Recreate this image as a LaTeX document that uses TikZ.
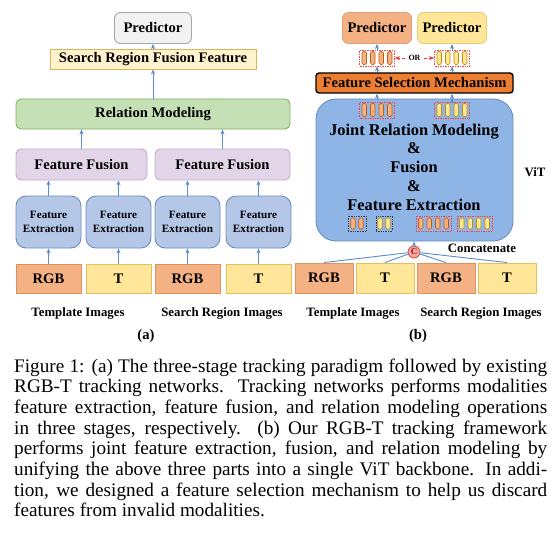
\documentclass[tikz,border=0pt]{standalone}
\usepackage{fontspec}
\setmainfont{Liberation Serif}
\usetikzlibrary{arrows.meta}
\definecolor{predgray}{HTML}{F2F2F2}
\definecolor{predgrayline}{HTML}{A6A6A6}
\definecolor{featyellow}{HTML}{FFF2CC}
\definecolor{featyellowline}{HTML}{D6B656}
\definecolor{relgreen}{HTML}{C5E0B4}
\definecolor{relgreenline}{HTML}{82B366}
\definecolor{fuspurple}{HTML}{E1D5E7}
\definecolor{fuspurpleline}{HTML}{C3ABD0}
\definecolor{extblue}{HTML}{B4C7E7}
\definecolor{extblueline}{HTML}{6C8EBF}
\definecolor{rgborange}{HTML}{F4B183}
\definecolor{rgborangeline}{HTML}{E0915C}
\definecolor{tyellow}{HTML}{FFE699}
\definecolor{tyellowline}{HTML}{E3C05F}
\definecolor{predorangeline}{HTML}{E0A07A}
\definecolor{predyellowline}{HTML}{E8CC7A}
\definecolor{selorange}{HTML}{ED7D31}
\definecolor{vitblue}{HTML}{8FB4E6}
\definecolor{vitblueline}{HTML}{6C8EBF}
\definecolor{pillOline}{HTML}{C55A11}
\definecolor{pillYline}{HTML}{BF9000}
\definecolor{arrowblue}{HTML}{5B8BD0}
\definecolor{concatred}{HTML}{F4A3A0}
\definecolor{concatline}{HTML}{C0504D}
\definecolor{concattext}{HTML}{8B1A1A}

\begin{document}
\begin{tikzpicture}[x=1pt, y=-1pt,
		lbl/.style={font=\bfseries\fontsize{14.6}{17}\selectfont},
		caplbl/.style={font=\bfseries\fontsize{12.8}{15}\selectfont},
		block/.style={draw, line width=0.9pt, rounded corners=5pt, inner sep=0pt, lbl},
		predictor/.style={block, rounded corners=6pt, minimum width=77pt, minimum height=31pt},
		fusionfeat/.style={block, rounded corners=0pt, fill=featyellow, draw=featyellowline, minimum width=206pt, minimum height=20pt},
		relation/.style={block, fill=relgreen, draw=relgreenline, minimum width=274pt, minimum height=30pt},
		fusion/.style={block, fill=fuspurple, draw=fuspurpleline, minimum height=31pt},
		extract/.style={block, rounded corners=10pt, fill=extblue, draw=extblueline, minimum width=65pt, minimum height=52pt, align=center, font=\bfseries\fontsize{11.2}{14}\selectfont},
		rgbbox/.style={block, rounded corners=0pt, fill=rgborange, draw=rgborangeline, minimum height=29pt},
		tbox/.style={block, rounded corners=0pt, fill=tyellow, draw=tyellowline, minimum height=29pt},
		selection/.style={block, rounded corners=3pt, fill=selorange, draw=black, line width=1.4pt, minimum width=197pt, minimum height=20pt},
		vit/.style={block, rounded corners=20pt, fill=vitblue, draw=vitblueline, minimum width=197pt, minimum height=142pt},
		tokgrp/.style={draw=red!75, densely dotted, line width=0.7pt, inner sep=0pt, minimum width=35pt, minimum height=16pt},
		pillO/.style={draw=pillOline, fill=rgborange, rounded corners=1.5pt, line width=0.6pt, inner sep=0pt, minimum width=4.5pt},
		pillY/.style={pillO, draw=pillYline, fill=tyellow},
		link/.style={-{Stealth[length=5pt,width=4pt]}, draw=arrowblue, line width=0.9pt},
		orarrow/.style={-{Stealth[length=5pt,width=4pt]}, draw=red!80, densely dashed, line width=0.8pt},
		captext/.style={anchor=base west, inner sep=0pt, font=\fontsize{19.2}{20.7}\selectfont},
	]
		\useasboundingbox (0,0) rectangle (556,532);

		\draw (153,28) node [predictor, fill=predgray, draw=predgrayline] (predA) {Predictor};
		\draw (153,59) node [fusionfeat] (srff) {Search Region Fusion Feature};
		\draw (153,114) node [relation] (rel) {Relation Modeling};
		\draw (81.5,164.5) node [fusion, minimum width=131pt] (fus1) {Feature Fusion};
		\draw (222.5,164.5) node [fusion, minimum width=135pt] (fus2) {Feature Fusion};
		\draw (48.5,222) node [extract] (ext1) {Feature\\Extraction};
		\draw (118.5,222) node [extract] (ext2) {Feature\\Extraction};
		\draw (187.5,222) node [extract] (ext3) {Feature\\Extraction};
		\draw (258.5,222) node [extract] (ext4) {Feature\\Extraction};
		\draw (48.5,278.5) node [rgbbox, minimum width=65pt] (rgbA1) {RGB};
		\draw (118.5,278.5) node [tbox, minimum width=65pt] (tA1) {T};
		\draw (187.5,278.5) node [rgbbox, minimum width=65pt] (rgbA2) {RGB};
		\draw (258.5,278.5) node [tbox, minimum width=65pt] (tA2) {T};
		\draw (78,313) node [caplbl] (tmplA) {Template Images};
		\draw (222,313) node [caplbl] (srchA) {Search Region Images};
		\draw (146,336) node [lbl] (subA) {(a)};

		\draw (377,28) node [predictor, fill=rgborange, draw=predorangeline, minimum width=69pt] (predO) {Predictor};
		\draw (452,28) node [predictor, fill=tyellow, draw=predyellowline, minimum width=69pt] (predY) {Predictor};
		\draw (377,58) node [tokgrp] (outO) {};
		\draw (452,58) node [tokgrp] (outY) {};
		\draw (414.5,58) node [font=\bfseries\fontsize{8}{9}\selectfont] (or) {OR};
		\draw (414.5,83) node [selection] (sel) {Feature Selection Mechanism};
		\draw (414.5,170) node [vit] (vit) {};
		\draw (377,110) node [tokgrp] (inO) {};
		\draw (452,110) node [tokgrp] (inY) {};
		\draw (414,167) node [align=center, font=\bfseries\fontsize{16.4}{18.75}\selectfont] (joint) {Joint Relation Modeling\\\&\\Fusion\\\&\\Feature Extraction};
		\draw (357,223.5) node [tokgrp, draw=black!75, minimum width=18pt, minimum height=15pt] (tokO) {};
		\draw (384,223.5) node [tokgrp, draw=black!75, minimum width=16pt, minimum height=15pt] (tokY) {};
		\draw (433.5,223.5) node [tokgrp, minimum height=15pt] (srchO) {};
		\draw (474.5,223.5) node [tokgrp, minimum height=15pt] (srchY) {};
		\foreach \g/\s/\h in {outO/pillO/13, outY/pillY/13, inO/pillO/13, inY/pillY/13, srchO/pillO/11, srchY/pillY/11}
			\foreach \dx in {-12.75,-4.25,4.25,12.75}
				\node [\s, minimum height=\h pt] at ([xshift=\dx pt]\g.center) {};
		\foreach \g/\s in {tokO/pillO, tokY/pillY}
			\foreach \dx in {-4,4}
				\node [\s, minimum height=11pt] at ([xshift=\dx pt]\g.center) {};
		\draw (535,172) node [caplbl] (vitlbl) {ViT};
		\draw (414,252) node [circle, draw=concatline, fill=concatred, line width=0.8pt, minimum size=12pt, inner sep=0pt, text=concattext, font=\bfseries\fontsize{9}{9}\selectfont] (cat) {C};
		\draw (482,248) node [caplbl] (catlbl) {Concatenate};
		\draw (324,278) node [rgbbox, minimum width=58pt, minimum height=30pt] (rgbB1) {RGB};
		\draw (385,278) node [tbox, minimum width=58pt, minimum height=30pt] (tB1) {T};
		\draw (446,278) node [rgbbox, minimum width=58pt, minimum height=30pt] (rgbB2) {RGB};
		\draw (507,278) node [tbox, minimum width=58pt, minimum height=30pt] (tB2) {T};
		\draw (353,313) node [caplbl] (tmplB) {Template Images};
		\draw (481,313) node [caplbl] (srchB) {Search Region Images};
		\draw (418,336) node [lbl] (subB) {(b)};

		\draw (14,372) node [captext] (cap1) {\makebox[533pt][s]{Figure 1: (a) The three-stage tracking paradigm followed by existing}};
		\draw (14,392.7) node [captext] (cap2) {\makebox[533pt][s]{RGB-T tracking networks.\ \ Tracking networks performs modalities}};
		\draw (14,413.4) node [captext] (cap3) {\makebox[533pt][s]{feature extraction, feature fusion, and relation modeling operations}};
		\draw (14,434.1) node [captext] (cap4) {\makebox[533pt][s]{in three stages, respectively.\ \ (b) Our RGB-T tracking framework}};
		\draw (14,454.8) node [captext] (cap5) {\makebox[533pt][s]{performs joint feature extraction, fusion, and relation modeling by}};
		\draw (14,475.5) node [captext] (cap6) {\makebox[533pt][s]{unifying the above three parts into a single ViT backbone. In addi-}};
		\draw (14,496.2) node [captext] (cap7) {\makebox[533pt][s]{tion, we designed a feature selection mechanism to help us discard}};
		\draw (14,516.9) node [captext] (cap8) {features from invalid modalities.};

		\draw [link]
			(rgbA1) edge (ext1)
			(tA1) edge (ext2)
			(rgbA2) edge (ext3)
			(tA2) edge (ext4)
			(ext1) edge (ext1 |- fus1.south)
			(ext2) edge (ext2 |- fus1.south)
			(ext3) edge (ext3 |- fus2.south)
			(ext4) edge (ext4 |- fus2.south)
			(fus1) edge (fus1 |- rel.south)
			(fus2) edge (fus2 |- rel.south)
			(rel) edge (srff)
			(srff) edge (predA)
			(outO) edge (predO)
			(outY) edge (predY)
			(outO |- sel.north) edge (outO)
			(outY |- sel.north) edge (outY)
			(vit.north -| inO) edge (inO |- sel.south)
			(vit.north -| inY) edge (inY |- sel.south)
			(cat) edge (vit)
			(cat) edge [-] (rgbB1.north)
			(cat) edge [-] (tB1.north)
			(cat) edge [-] (rgbB2.north)
			(cat) edge [-] (tB2.north)
		;
		\draw [orarrow]
			(or) edge (outO)
			(or) edge (outY)
		;
	\end{tikzpicture}
\end{document}
